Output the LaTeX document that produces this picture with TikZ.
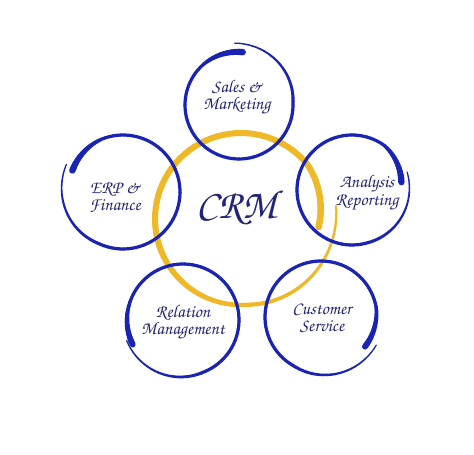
\documentclass[tikz,border=0pt]{standalone}
\usepackage[T1]{fontenc}
\definecolor{ringblue}{RGB}{26,36,178}
\definecolor{ringyellow}{RGB}{238,184,40}
\definecolor{txtnavy}{RGB}{34,36,118}
\newcommand\chanc{\fontfamily{pzc}\fontseries{mb}\fontshape{it}\selectfont}
% #1 r, #2 r at start, #3 r at end, #4 start angle, #5 sweep, #6 w start, #7 w body, #8 w end, #9 taper start
\newcommand\brushring[9]{%
 \foreach \i in {0,...,89}{%
  \pgfmathsetmacro\ta{\i/90}%
  \pgfmathsetmacro\tb{(\i+1)/90}%
  \pgfmathsetmacro\tm{(\i+0.5)/90}%
  \pgfmathsetmacro\aa{#4+(#5)*\ta}%
  \pgfmathsetmacro\ab{#4+(#5)*\tb}%
  \pgfmathsetmacro\ra{#1+(#2-#1)*max(0,1-\ta/0.12)+(#3-#1)*max(0,(\ta-0.75)/0.25)}%
  \pgfmathsetmacro\rb{#1+(#2-#1)*max(0,1-\tb/0.12)+(#3-#1)*max(0,(\tb-0.75)/0.25)}%
  \pgfmathsetmacro\w{#7+(#6-#7)*max(0,1-\tm/0.13)+(#8-#7)*max(0,(\tm-#9)/(1-#9))}%
  \draw[line width=\w pt] (\aa:\ra) -- (\ab:\rb);
 }}
\tikzset{
  lab/.style={text=txtnavy, align=center, font=\chanc\fontsize{18}{17}\selectfont, inner sep=0pt},
  bluering/.style={draw=ringblue, line cap=round},
  yellowring/.style={draw=ringyellow, line cap=round}
}
\begin{document}
\begin{tikzpicture}[x=1pt,y=1pt]
\useasboundingbox (0,0) rectangle (474,455);
\fill[white] (0,0) rectangle (474,455);
% centres
\coordinate (cy) at (241,236);
\coordinate (cs) at (239,350);
\coordinate (ce) at (123,263);
\coordinate (ca) at (352,265);
\coordinate (cr) at (183,135);
\coordinate (cc) at (321,138);
% yellow ring
\begin{scope}[shift={(cy)}, yellowring]
  \brushring{86}{78}{96}{-6}{374}{6.5}{6}{2}{0.55}
\end{scope}
% blue rings
\begin{scope}[shift={(cs)}, bluering]
  \brushring{54}{53}{62}{86}{368}{6.5}{3.2}{1.2}{0.75}
\end{scope}
\begin{scope}[shift={(ce)}, bluering]
  \brushring{57}{55}{63}{157}{-363}{6.5}{3.2}{1.2}{0.75}
\end{scope}
\begin{scope}[shift={(ca)}, bluering]
  \brushring{55}{50}{58}{9}{369}{6.5}{3.2}{1.2}{0.75}
\end{scope}
\begin{scope}[shift={(cr)}, bluering]
  \brushring{56}{56}{60}{206}{-366}{6}{3.2}{1.2}{0.75}
\end{scope}
\begin{scope}[shift={(cc)}, bluering]
  \brushring{56}{53}{62}{-34}{367}{6}{3.2}{1.2}{0.75}
\end{scope}
% labels
\node[lab, font=\chanc\fontsize{41}{41}\selectfont] (crm) at (237,247) {CRM};
\node[lab] (sales) at (237,358) {Sales \&\\Marketing};
\node[lab] (erp) at (115,258) {ERP \&\\Finance};
\node[lab] (ana) at (367,262) {Analysis\\Reporting};
\node[lab] (rel) at (183,133) {Relation\\Management};
\node[lab] (cus) at (322,137) {Customer\\Service};
\end{tikzpicture}
\end{document}
